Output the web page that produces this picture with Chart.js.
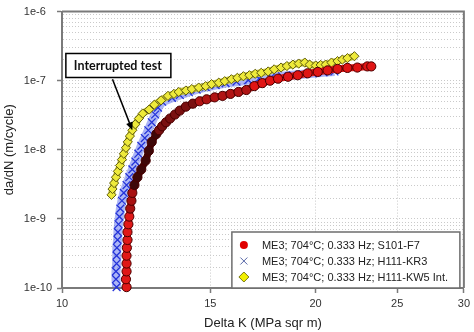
<!DOCTYPE html>
<html>
<head>
<meta charset="utf-8">
<script src="https://cdn.jsdelivr.net/npm/chart.js@4.4.0/dist/chart.umd.min.js"></script>
<style>
html, body { margin: 0; padding: 0; background: #fff; }
canvas { display: block; }
</style>
</head>
<body>
<canvas id="crackGrowthCanvas" width="474" height="332"></canvas>
<script>
// axis ticks
const deltaKTicks = [10, 15, 20, 25, 30];
const rateDecades = [1e-10, 1e-9, 1e-8, 1e-7, 1e-6];

const legendLabels = [
    'ME3; 704°C; 0.333 Hz; S101-F7',
    'ME3; 704°C; 0.333 Hz; H111-KR3',
    'ME3; 704°C; 0.333 Hz; H111-KW5 Int.'
];

// S101-F7 (red circles)
const s101K = [11.93, 11.91, 11.93, 11.93, 11.93, 11.94, 11.96, 11.96, 11.99, 12.02, 12.05, 12.09, 12.12, 12.19, 12.29, 12.42, 12.57, 12.68, 12.78, 12.94, 13.04, 13.15, 13.29, 13.44, 13.62, 13.80, 14.03, 14.30, 14.57, 14.85, 15.18, 15.51, 15.85, 16.20, 16.55, 16.92, 17.29, 17.66, 18.05, 18.55, 19.05, 19.57, 20.12, 20.67, 21.24, 21.82, 22.42, 23.04, 23.29];
const s101Rate = [1.03e-10, 1.34e-10, 1.74e-10, 2.26e-10, 2.94e-10, 3.82e-10, 4.96e-10, 6.44e-10, 8.36e-10, 1.08e-9, 1.41e-9, 1.83e-9, 2.38e-9, 3.09e-9, 4.01e-9, 5.20e-9, 6.98e-9, 9.68e-9, 1.30e-8, 1.69e-8, 1.92e-8, 2.19e-8, 2.50e-8, 2.84e-8, 3.24e-8, 3.69e-8, 4.21e-8, 4.65e-8, 5.04e-8, 5.38e-8, 5.74e-8, 6.03e-8, 6.44e-8, 6.87e-8, 7.33e-8, 8.35e-8, 9.22e-8, 1.00e-7, 1.07e-7, 1.14e-7, 1.20e-7, 1.28e-7, 1.34e-7, 1.41e-7, 1.48e-7, 1.53e-7, 1.55e-7, 1.61e-7, 1.61e-7];

// H111-KR3 (blue crosses)
const kr3K = [11.61, 11.59, 11.59, 11.61, 11.61, 11.62, 11.64, 11.65, 11.67, 11.70, 11.73, 11.78, 11.84, 11.93, 12.02, 12.12, 12.22, 12.32, 12.42, 12.54, 12.66, 12.78, 12.90, 13.00, 13.15, 13.51, 13.80, 14.14, 14.45, 14.81, 15.22, 15.64, 16.11, 16.64, 17.14, 17.71, 18.25, 18.80, 19.32, 19.85, 20.44, 21.06];
const kr3Rate = [1.03e-10, 1.34e-10, 1.74e-10, 2.26e-10, 2.94e-10, 3.82e-10, 4.96e-10, 6.44e-10, 8.36e-10, 1.08e-9, 1.41e-9, 1.83e-9, 2.38e-9, 3.09e-9, 4.01e-9, 5.20e-9, 6.76e-9, 8.78e-9, 1.14e-8, 1.48e-8, 1.92e-8, 2.50e-8, 3.24e-8, 4.07e-8, 4.96e-8, 5.65e-8, 6.22e-8, 6.87e-8, 7.45e-8, 8.09e-8, 8.63e-8, 9.22e-8, 9.68e-8, 1.02e-7, 1.07e-7, 1.12e-7, 1.16e-7, 1.20e-7, 1.24e-7, 1.28e-7, 1.32e-7, 1.36e-7];

// H111-KW5 interrupted (yellow diamonds)
const kw5K = [11.45, 11.48, 11.53, 11.59, 11.65, 11.72, 11.78, 11.84, 11.91, 11.97, 12.04, 12.12, 12.22, 12.34, 12.47, 12.69, 12.87, 13.11, 13.36, 13.58, 13.76, 14.03, 14.26, 14.53, 14.81, 15.05, 15.35, 15.60, 15.89, 16.15, 16.42, 16.69, 16.96, 17.24, 17.57, 17.86, 18.20, 18.49, 18.80, 19.10, 19.42, 19.68, 20.01, 20.28, 20.56, 20.89, 21.24, 21.52, 21.82, 22.24];
const kw5Rate = [2.23e-9, 2.71e-9, 3.30e-9, 4.01e-9, 4.88e-9, 5.93e-9, 7.22e-9, 8.78e-9, 1.07e-8, 1.30e-8, 1.58e-8, 1.92e-8, 2.34e-8, 2.84e-8, 3.35e-8, 3.82e-8, 4.49e-8, 5.20e-8, 6.03e-8, 6.44e-8, 6.87e-8, 7.21e-8, 7.57e-8, 7.96e-8, 8.35e-8, 8.92e-8, 9.37e-8, 9.84e-8, 1.05e-7, 1.10e-7, 1.16e-7, 1.20e-7, 1.26e-7, 1.30e-7, 1.36e-7, 1.46e-7, 1.55e-7, 1.63e-7, 1.71e-7, 1.77e-7, 1.83e-7, 1.71e-7, 1.66e-7, 1.69e-7, 1.71e-7, 1.83e-7, 1.92e-7, 2.02e-7, 2.12e-7, 2.26e-7];

// callout
const noteText = 'Interrupted test';
const noteAt = { x: 11.65, y: 1.66e-7 };
const arrowFrom = { x: 11.48, y: 1.05e-7 };
const arrowTo = { x: 12.12, y: 1.92e-8 };

function toPoints(xs, ys) {
    return xs.map((x, i) => ({ x: x, y: ys[i] }));
}

function isDecade(v) {
    const e = Math.log10(v);
    return Math.abs(e - Math.round(e)) < 1e-6;
}

function redShade(v) {
    if (v < 1.2e-9) return '#e01818';
    if (v < 3e-9) return '#a81010';
    if (v < 1.8e-8) return '#3e0808';
    if (v < 5e-8) return '#7a1010';
    if (v < 8e-8) return '#b01414';
    return '#e01515';
}

function drawMarker(c, kind, x, y) {
    c.save();
    if (kind === 0) {
        c.fillStyle = '#e00000';
        c.beginPath();
        c.arc(x, y, 4, 0, Math.PI * 2);
        c.fill();
    } else if (kind === 1) {
        c.strokeStyle = '#5868a8';
        c.lineWidth = 1;
        c.beginPath();
        c.moveTo(x - 3.5, y - 3.5); c.lineTo(x + 3.5, y + 3.5);
        c.moveTo(x + 3.5, y - 3.5); c.lineTo(x - 3.5, y + 3.5);
        c.stroke();
    } else {
        c.fillStyle = '#f2f000';
        c.strokeStyle = '#7a7a10';
        c.lineWidth = 1;
        c.beginPath();
        c.moveTo(x, y - 5); c.lineTo(x + 5, y); c.lineTo(x, y + 5); c.lineTo(x - 5, y);
        c.closePath();
        c.fill();
        c.stroke();
    }
    c.restore();
}

const frameAndNotes = {
    id: 'frameAndNotes',
    beforeDatasetsDraw(chart) {
        const { ctx, chartArea: a } = chart;
        ctx.save();
        ctx.strokeStyle = '#7a7a7a';
        ctx.lineWidth = 2;
        ctx.beginPath();
        ctx.moveTo(a.left, a.top);
        ctx.lineTo(a.right, a.top);
        ctx.lineTo(a.right, a.bottom);
        ctx.stroke();
        ctx.restore();
    },
    afterDraw(chart) {
        const { ctx, chartArea: a, scales } = chart;
        const sx = scales.x, sy = scales.y;

        // arrow
        const x1 = sx.getPixelForValue(arrowFrom.x), y1 = sy.getPixelForValue(arrowFrom.y);
        const x2 = sx.getPixelForValue(arrowTo.x), y2 = sy.getPixelForValue(arrowTo.y);
        const ang = Math.atan2(y2 - y1, x2 - x1);
        ctx.save();
        ctx.strokeStyle = '#000';
        ctx.fillStyle = '#000';
        ctx.lineWidth = 1.5;
        ctx.beginPath();
        ctx.moveTo(x1, y1);
        ctx.lineTo(x2 - 6 * Math.cos(ang), y2 - 6 * Math.sin(ang));
        ctx.stroke();
        ctx.beginPath();
        ctx.moveTo(x2, y2);
        ctx.lineTo(x2 - 8 * Math.cos(ang) + 3.5 * Math.sin(ang), y2 - 8 * Math.sin(ang) - 3.5 * Math.cos(ang));
        ctx.lineTo(x2 - 8 * Math.cos(ang) - 3.5 * Math.sin(ang), y2 - 8 * Math.sin(ang) + 3.5 * Math.cos(ang));
        ctx.closePath();
        ctx.fill();

        // callout box
        const cx = sx.getPixelForValue(noteAt.x), cy = sy.getPixelForValue(noteAt.y);
        ctx.fillStyle = '#fff';
        ctx.fillRect(cx - 52, cy - 12, 105, 24);
        ctx.strokeRect(cx - 52, cy - 12, 105, 24);
        ctx.fillStyle = '#111';
        ctx.font = "bold 12.5px Lato, 'Open Sans', sans-serif";
        ctx.textAlign = 'center';
        ctx.textBaseline = 'middle';
        ctx.fillText(noteText, cx, cy + 0.5);

        // legend box
        const lx = a.right - 232, ly = a.bottom - 56;
        ctx.fillStyle = '#fff';
        ctx.fillRect(lx, ly, 228, 56);
        ctx.strokeStyle = '#6e6e6e';
        ctx.lineWidth = 1.5;
        ctx.strokeRect(lx, ly, 228, 56);
        ctx.font = "11px 'Liberation Sans', Arial, sans-serif";
        ctx.textAlign = 'left';
        legendLabels.forEach((lab, i) => {
            const ry = ly + 13 + i * 16;
            drawMarker(ctx, i, lx + 12, ry);
            ctx.fillStyle = '#222';
            ctx.fillText(lab, lx + 30, ry + 0.5);
        });
        ctx.restore();
    }
};

Chart.defaults.font.family = "'Liberation Sans', Arial, sans-serif";
Chart.defaults.color = '#333';

const ctx = document.getElementById('crackGrowthCanvas').getContext('2d');

const crackChart = new Chart(ctx, {
    type: 'scatter',
    data: {
        datasets: [
            {
                label: legendLabels[0],
                data: toPoints(s101K, s101Rate),
                order: 0,
                showLine: true,
                borderWidth: 7,
                borderColor: '#8a1010',
                segment: { borderColor: c => redShade(c.p0.parsed.y) },
                pointStyle: 'circle',
                pointRadius: 4.6,
                pointBorderWidth: 1,
                pointBackgroundColor: c => redShade(c.raw ? c.raw.y : 1e-7),
                pointBorderColor: '#4a0000',
                clip: 8
            },
            {
                label: legendLabels[1],
                data: toPoints(kr3K, kr3Rate),
                order: 2,
                showLine: true,
                borderWidth: 9,
                borderColor: 'rgba(70, 90, 235, 0.45)',
                pointStyle: 'crossRot',
                pointRadius: 5.5,
                pointBorderWidth: 1.3,
                pointBorderColor: '#2433d8',
                clip: 8
            },
            {
                label: legendLabels[2],
                data: toPoints(kw5K, kw5Rate),
                order: 1,
                showLine: true,
                borderWidth: 7,
                borderColor: '#c9c62e',
                pointStyle: 'rectRot',
                pointRadius: 4.6,
                pointBorderWidth: 1,
                pointBackgroundColor: '#eeea3a',
                pointBorderColor: '#5e5a10',
                clip: 8
            }
        ]
    },
    options: {
        responsive: false,
        animation: false,
        devicePixelRatio: 1,
        layout: { padding: { top: 6, right: 7, left: 0, bottom: 0 } },
        plugins: {
            legend: { display: false },
            tooltip: { enabled: false }
        },
        scales: {
            x: {
                type: 'logarithmic',
                min: 10,
                max: 30,
                afterBuildTicks: s => { s.ticks = deltaKTicks.map(v => ({ value: v })); },
                afterFit: s => { s.height = 44; },
                ticks: {
                    autoSkip: false,
                    maxRotation: 0,
                    padding: 4,
                    font: { size: 11 },
                    color: '#333',
                    callback: v => String(v)
                },
                grid: {
                    color: '#c8c8c8',
                    lineWidth: 1,
                    tickLength: 5,
                    tickColor: '#7a7a7a',
                    tickBorderDash: [],
                    tickWidth: 1.5
                },
                border: { color: '#7a7a7a', width: 2, dash: [1, 2] },
                title: {
                    display: true,
                    text: 'Delta K (MPa sqr m)',
                    font: { size: 13 },
                    color: '#222',
                    padding: { top: 0, bottom: 1 }
                }
            },
            y: {
                type: 'logarithmic',
                min: 1e-10,
                max: 1e-6,
                afterBuildTicks: s => {
                    const t = [];
                    rateDecades.forEach(d => {
                        for (let m = 1; m < 10; m++) {
                            if (d * m <= 1.0001e-6) t.push({ value: d * m });
                        }
                    });
                    s.ticks = t;
                },
                afterFit: s => { s.width = 62; },
                ticks: {
                    autoSkip: false,
                    padding: 5,
                    font: { size: 11 },
                    color: '#333',
                    callback: v => {
                        if (!isDecade(v)) return '';
                        const s = '1e' + Math.round(Math.log10(v));
                        return s + '  '.repeat(5 - s.length);
                    }
                },
                grid: {
                    color: '#cacaca',
                    lineWidth: 1,
                    tickLength: 5,
                    tickColor: c => (c.tick && isDecade(c.tick.value)) ? '#7a7a7a' : 'rgba(0,0,0,0)',
                    tickBorderDash: [],
                    tickWidth: 1.5
                },
                border: { color: '#7a7a7a', width: 2, dash: [1, 2] },
                title: {
                    display: true,
                    text: 'da/dN (m/cycle)',
                    font: { size: 13 },
                    color: '#222',
                    padding: { top: 2, bottom: 0 }
                }
            }
        }
    },
    plugins: [frameAndNotes]
});
</script>
</body>
</html>
